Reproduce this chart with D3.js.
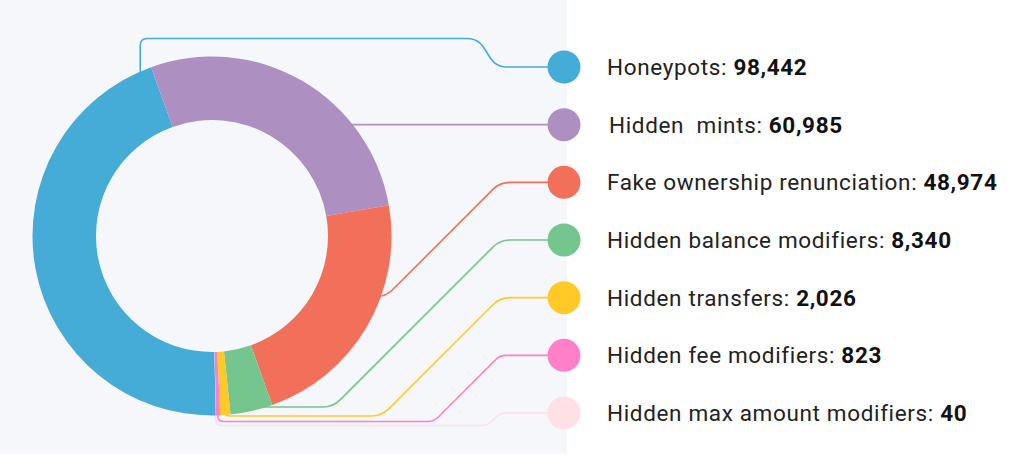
<!DOCTYPE html>
<html>
<head>
<meta charset="utf-8">
<style>
  html, body { margin: 0; padding: 0; background: #ffffff; }
  svg { display: block; }
  text { font-family: Roboto, "Noto Sans", sans-serif; white-space: pre; }
</style>
<script src="https://d3js.org/d3.v7.min.js"></script>
</head>
<body>
<script>
// data
const categories = [
  "Honeypots",
  "Hidden  mints",
  "Fake ownership renunciation",
  "Hidden balance modifiers",
  "Hidden transfers",
  "Hidden fee modifiers",
  "Hidden max amount modifiers"
];
const values = [98442, 60985, 48974, 8340, 2026, 823, 40];
const colors = ["#44acd6", "#ae8fc1", "#f2705a", "#74c68e", "#ffca28", "#ff80c8", "#ffe0e6"];

const width = 1031, height = 464;
const cx = 212, cy = 236;
const R = 179.5, r = 116;
const legendX = 564, textX = 607, diagEnd = 500;

const svg = d3.select("body").append("svg")
    .attr("width", width)
    .attr("height", height);

// grey panel behind the donut
svg.append("rect")
    .attr("x", 0).attr("y", 0)
    .attr("width", 567).attr("height", 454)
    .attr("fill", "#f5f7fa");

const start = 178.8 * Math.PI / 180;
const pie = d3.pie().sort(null).startAngle(start).endAngle(start + 2 * Math.PI);
const arcs = pie(values);
const arc = d3.arc().innerRadius(r).outerRadius(R);

const legendY = d3.scaleLinear().domain([0, categories.length - 1]).range([67, 413]);

// point at angle a (d3 convention), radius rad
function pt(a, rad) {
  return [cx + rad * Math.sin(a), cy - rad * Math.cos(a)];
}

// polyline with rounded corners
function rounded(points, rad) {
  const p = d3.path();
  p.moveTo(points[0][0], points[0][1]);
  for (let i = 1; i < points.length - 1; i++) {
    const [ax, ay] = points[i - 1], [bx, by] = points[i], [nx, ny] = points[i + 1];
    const l1 = Math.hypot(ax - bx, ay - by), l2 = Math.hypot(nx - bx, ny - by);
    const k = Math.min(rad, l1 / 2, l2 / 2);
    p.lineTo(bx + (ax - bx) * k / l1, by + (ay - by) * k / l1);
    p.quadraticCurveTo(bx, by, bx + (nx - bx) * k / l2, by + (ny - by) * k / l2);
  }
  const last = points[points.length - 1];
  p.lineTo(last[0], last[1]);
  return p.toString();
}

// leader lines, drawn under the donut so they seem to come out of it
function leader(d, i) {
  const ly = legendY(i);
  const mid = (d.startAngle + d.endAngle) / 2;
  const rMid = (R + r) / 2;
  if (i === 0) {
    const x0 = pt(d.endAngle - 0.065, R)[0];
    const top = cy - R - 18;
    const p = d3.path();
    p.moveTo(x0, cy - r - 5);
    p.lineTo(x0, top + 7);
    p.quadraticCurveTo(x0, top, x0 + 7, top);
    p.lineTo(467, top);
    p.bezierCurveTo(490, top, 484, ly, 507, ly);
    p.lineTo(legendX, ly);
    return p.toString();
  }
  if (i === 1) {
    const x0 = cx + Math.sqrt(rMid * rMid - (ly - cy) * (ly - cy));
    return `M${x0},${ly}H${legendX}`;
  }
  let level, x0, y0;
  if (i === 2) {
    const a = d.startAngle + 0.37 * (d.endAngle - d.startAngle);
    level = pt(a, R)[1];
    x0 = cx + Math.sqrt(rMid * rMid - (level - cy) * (level - cy));
    y0 = level;
  } else {
    const bottom = cy + R;
    level = [bottom - 8.5, bottom + 0.5, bottom + 6, bottom + 10][i - 3];
    [x0, y0] = pt(mid, R - 8);
  }
  const pts = [[x0, y0], [x0, level], [diagEnd - (level - ly), level], [diagEnd, ly], [legendX, ly]];
  if (i === 2) pts.splice(1, 1);
  return rounded(pts, i >= 5 ? 6 : 10);
}

svg.append("g")
  .selectAll("path")
  .data(arcs)
  .join("path")
    .attr("d", leader)
    .attr("fill", "none")
    .attr("stroke", (_, i) => colors[i])
    .attr("stroke-width", 1.6);

svg.append("g")
    .attr("transform", `translate(${cx},${cy})`)
  .selectAll("path")
  .data(arcs)
  .join("path")
    .attr("d", arc)
    .attr("fill", (_, i) => colors[i]);

// legend
const fmt = d3.format(",");
const items = svg.append("g")
  .selectAll("g")
  .data(categories)
  .join("g");

items.append("circle")
    .attr("cx", legendX)
    .attr("cy", (_, i) => legendY(i))
    .attr("r", 16.5)
    .attr("fill", (_, i) => colors[i]);

const txt = items.append("text")
    .attr("x", (_, i) => textX + (i === 1 ? 2 : 0))
    .attr("y", (_, i) => legendY(i))
    .attr("dy", "0.36em")
    .attr("font-size", 22.5)
    .attr("letter-spacing", 0.65);

txt.append("tspan")
    .attr("fill", "#222")
    .text(d => d + ": ");
txt.append("tspan")
    .attr("fill", "#111")
    .attr("font-weight", 700)
    .text((_, i) => fmt(values[i]));
</script>
</body>
</html>
